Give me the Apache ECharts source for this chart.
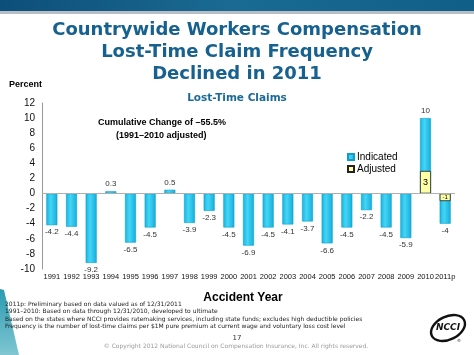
<!DOCTYPE html>
<html><head><meta charset="utf-8">
<script src="https://cdn.jsdelivr.net/npm/echarts@6/dist/echarts.min.js"></script>
<style>html,body{margin:0;padding:0;background:#fff}#c{width:474px;height:355px}</style>
</head><body><div id="c"></div>
<script>
var categories = ['1991','1992','1993','1994','1995','1996','1997','1998','1999','2000','2001','2002','2003','2004','2005','2006','2007','2008','2009','2010','2011p'];
var indicated = [-4.2,-4.4,-9.2,0.3,-6.5,-4.5,0.5,-3.9,-2.3,-4.5,-6.9,-4.5,-4.1,-3.7,-6.6,-4.5,-2.2,-4.5,-5.9,10,-4];
var adjusted = [null,null,null,null,null,null,null,null,null,null,null,null,null,null,null,null,null,null,null,3,-1];
var yTicks = {min:-10, max:12, interval:2};
var titleLines = ['Countrywide Workers Compensation','Lost-Time Claim Frequency','Declined in 2011'];
var footnotes = [
 '2011p: Preliminary based on data valued as of 12/31/2011',
 '1991\u20132010: Based on data through 12/31/2010, developed to ultimate',
 'Based on the states where NCCI provides ratemaking services, including state funds; excludes high deductible policies',
 'Frequency is the number of lost-time claims per $1M pure premium at current wage and voluntary loss cost level'
];

var chart = echarts.init(document.getElementById('c'));
var cyan = new echarts.graphic.LinearGradient(0,0,1,0,[
  {offset:0,color:'#17b4e0'},{offset:0.4,color:'#45d5f5'},{offset:1,color:'#14addb'}]);
var graphics = [
  {type:'rect', shape:{x:0,y:0,width:474,height:11}, style:{fill:new echarts.graphic.LinearGradient(0,0,1,0,[{offset:0,color:'#0d4f7a'},{offset:0.5,color:'#1a6b93'},{offset:1,color:'#0f5f88'}])}},
  {type:'rect', shape:{x:0,y:11,width:474,height:3}, style:{fill:'#b8bec4'}},
  {type:'polygon', shape:{points:[[0,289],[4,290],[19,355],[0,355]]}, style:{fill:new echarts.graphic.LinearGradient(0,0,0,1,[{offset:0,color:'#2a9bb0'},{offset:1,color:'#7fc6d2'}])}},
  {type:'text', x:243, y:298, style:{text:'Accident Year', font:'bold 12px "Liberation Sans", Arial', fill:'#000', textAlign:'center', textVerticalAlign:'middle'}},
  {type:'text', x:237, y:338, style:{text:'17', font:'7px "DejaVu Sans"', fill:'#333', textAlign:'center', textVerticalAlign:'middle'}},
  {type:'text', x:236, y:346, style:{text:'\u00a9 Copyright 2012 National Council on Compensation Insurance, Inc. All rights reserved.', font:'6px "DejaVu Sans"', fill:'#9a9a9a', textAlign:'center', textVerticalAlign:'middle'}},
  {type:'ellipse', shape:{cx:448,cy:328,rx:18,ry:11.5}, rotation:0.45, originX:448, originY:328, style:{fill:'none', stroke:'#111', lineWidth:2.4}},
  {type:'text', x:448, y:328, style:{text:'NCCI', font:'italic bold 9px "DejaVu Sans"', fill:'#111', textAlign:'center', textVerticalAlign:'middle'}},
  {type:'text', x:457, y:339, style:{text:'\u00ae', font:'4px "DejaVu Sans"', fill:'#111'}}
];
titleLines.forEach(function(t,i){
  graphics.push({type:'text', x:237, y:30+i*22, style:{text:t, font:'bold 18px "DejaVu Sans"', fill:'#17618f', textAlign:'center', textVerticalAlign:'middle'}});
});
footnotes.forEach(function(t,i){
  graphics.push({type:'text', x:5, y:304+i*7.5, style:{text:t, font:'6px "DejaVu Sans"', fill:'#222', textVerticalAlign:'middle'}});
});

chart.setOption({
  animation:false,
  title:[
    {text:'Percent', left:4, top:75, textStyle:{fontFamily:'Liberation Sans', fontWeight:'bold', fontSize:9, color:'#000'}},
    {text:'Lost-Time Claims', left:'center', top:88, textStyle:{fontFamily:'DejaVu Sans', fontWeight:'bold', fontSize:10.5, color:'#1b6a96'}},
    {text:'Cumulative Change of \u201355.5%', left:93, top:113, textStyle:{fontFamily:'Liberation Sans', fontWeight:'bold', fontSize:9, color:'#000'}},
    {text:'(1991\u20132010 adjusted)', left:111, top:126, textStyle:{fontFamily:'Liberation Sans', fontWeight:'bold', fontSize:9, color:'#000'}}
  ],
  legend:{orient:'vertical', left:342, top:147, itemWidth:6, itemHeight:6, itemGap:2,
    textStyle:{fontFamily:'Liberation Sans', fontSize:10, color:'#000', padding:[0,0,0,-2]},
    data:[{name:'Indicated', icon:'rect'},{name:'Adjusted', icon:'rect'}]},
  grid:{left:42, right:19, top:103, bottom:86},
  xAxis:{type:'category', data:categories, axisLine:{show:false}, axisTick:{show:false},
    axisLabel:{interval:0, fontFamily:'Liberation Sans', fontSize:7.5, color:'#111', margin:4}},
  yAxis:{type:'value', min:yTicks.min, max:yTicks.max, interval:yTicks.interval, splitLine:{show:false},
    axisLine:{show:true, lineStyle:{color:'#999'}}, axisTick:{show:false},
    axisLabel:{fontFamily:'Liberation Sans', fontSize:10, color:'#111', margin:7}},
  series:[
    {name:'Indicated', type:'bar', barWidth:11, itemStyle:{color:cyan, borderColor:'#0e9fcb', borderWidth:0.6},
     data:indicated.map(function(v){return {value:v, label:{position: v<0 ? 'bottom' : 'top'}};}),
     label:{show:true, fontFamily:'Liberation Sans', fontSize:8, color:'#333', distance:3},
     markLine:{silent:true, symbol:'none', label:{show:false}, lineStyle:{color:'#b0b0b0', width:1, type:'solid'}, data:[{yAxis:0}]}
    },
    {name:'Adjusted', type:'bar', barWidth:11, barGap:'-100%', z:3,
     data:adjusted.map(function(v){return v===null?null:{value:v, label:{fontSize: v<0?6:9}};}),
     itemStyle:{color:'#ffffa6', borderColor:'#222', borderWidth:0.8},
     label:{show:true, position:'inside', fontFamily:'Liberation Sans', fontSize:9, color:'#000'}}
  ],
  graphic:graphics
});
</script></body></html>
